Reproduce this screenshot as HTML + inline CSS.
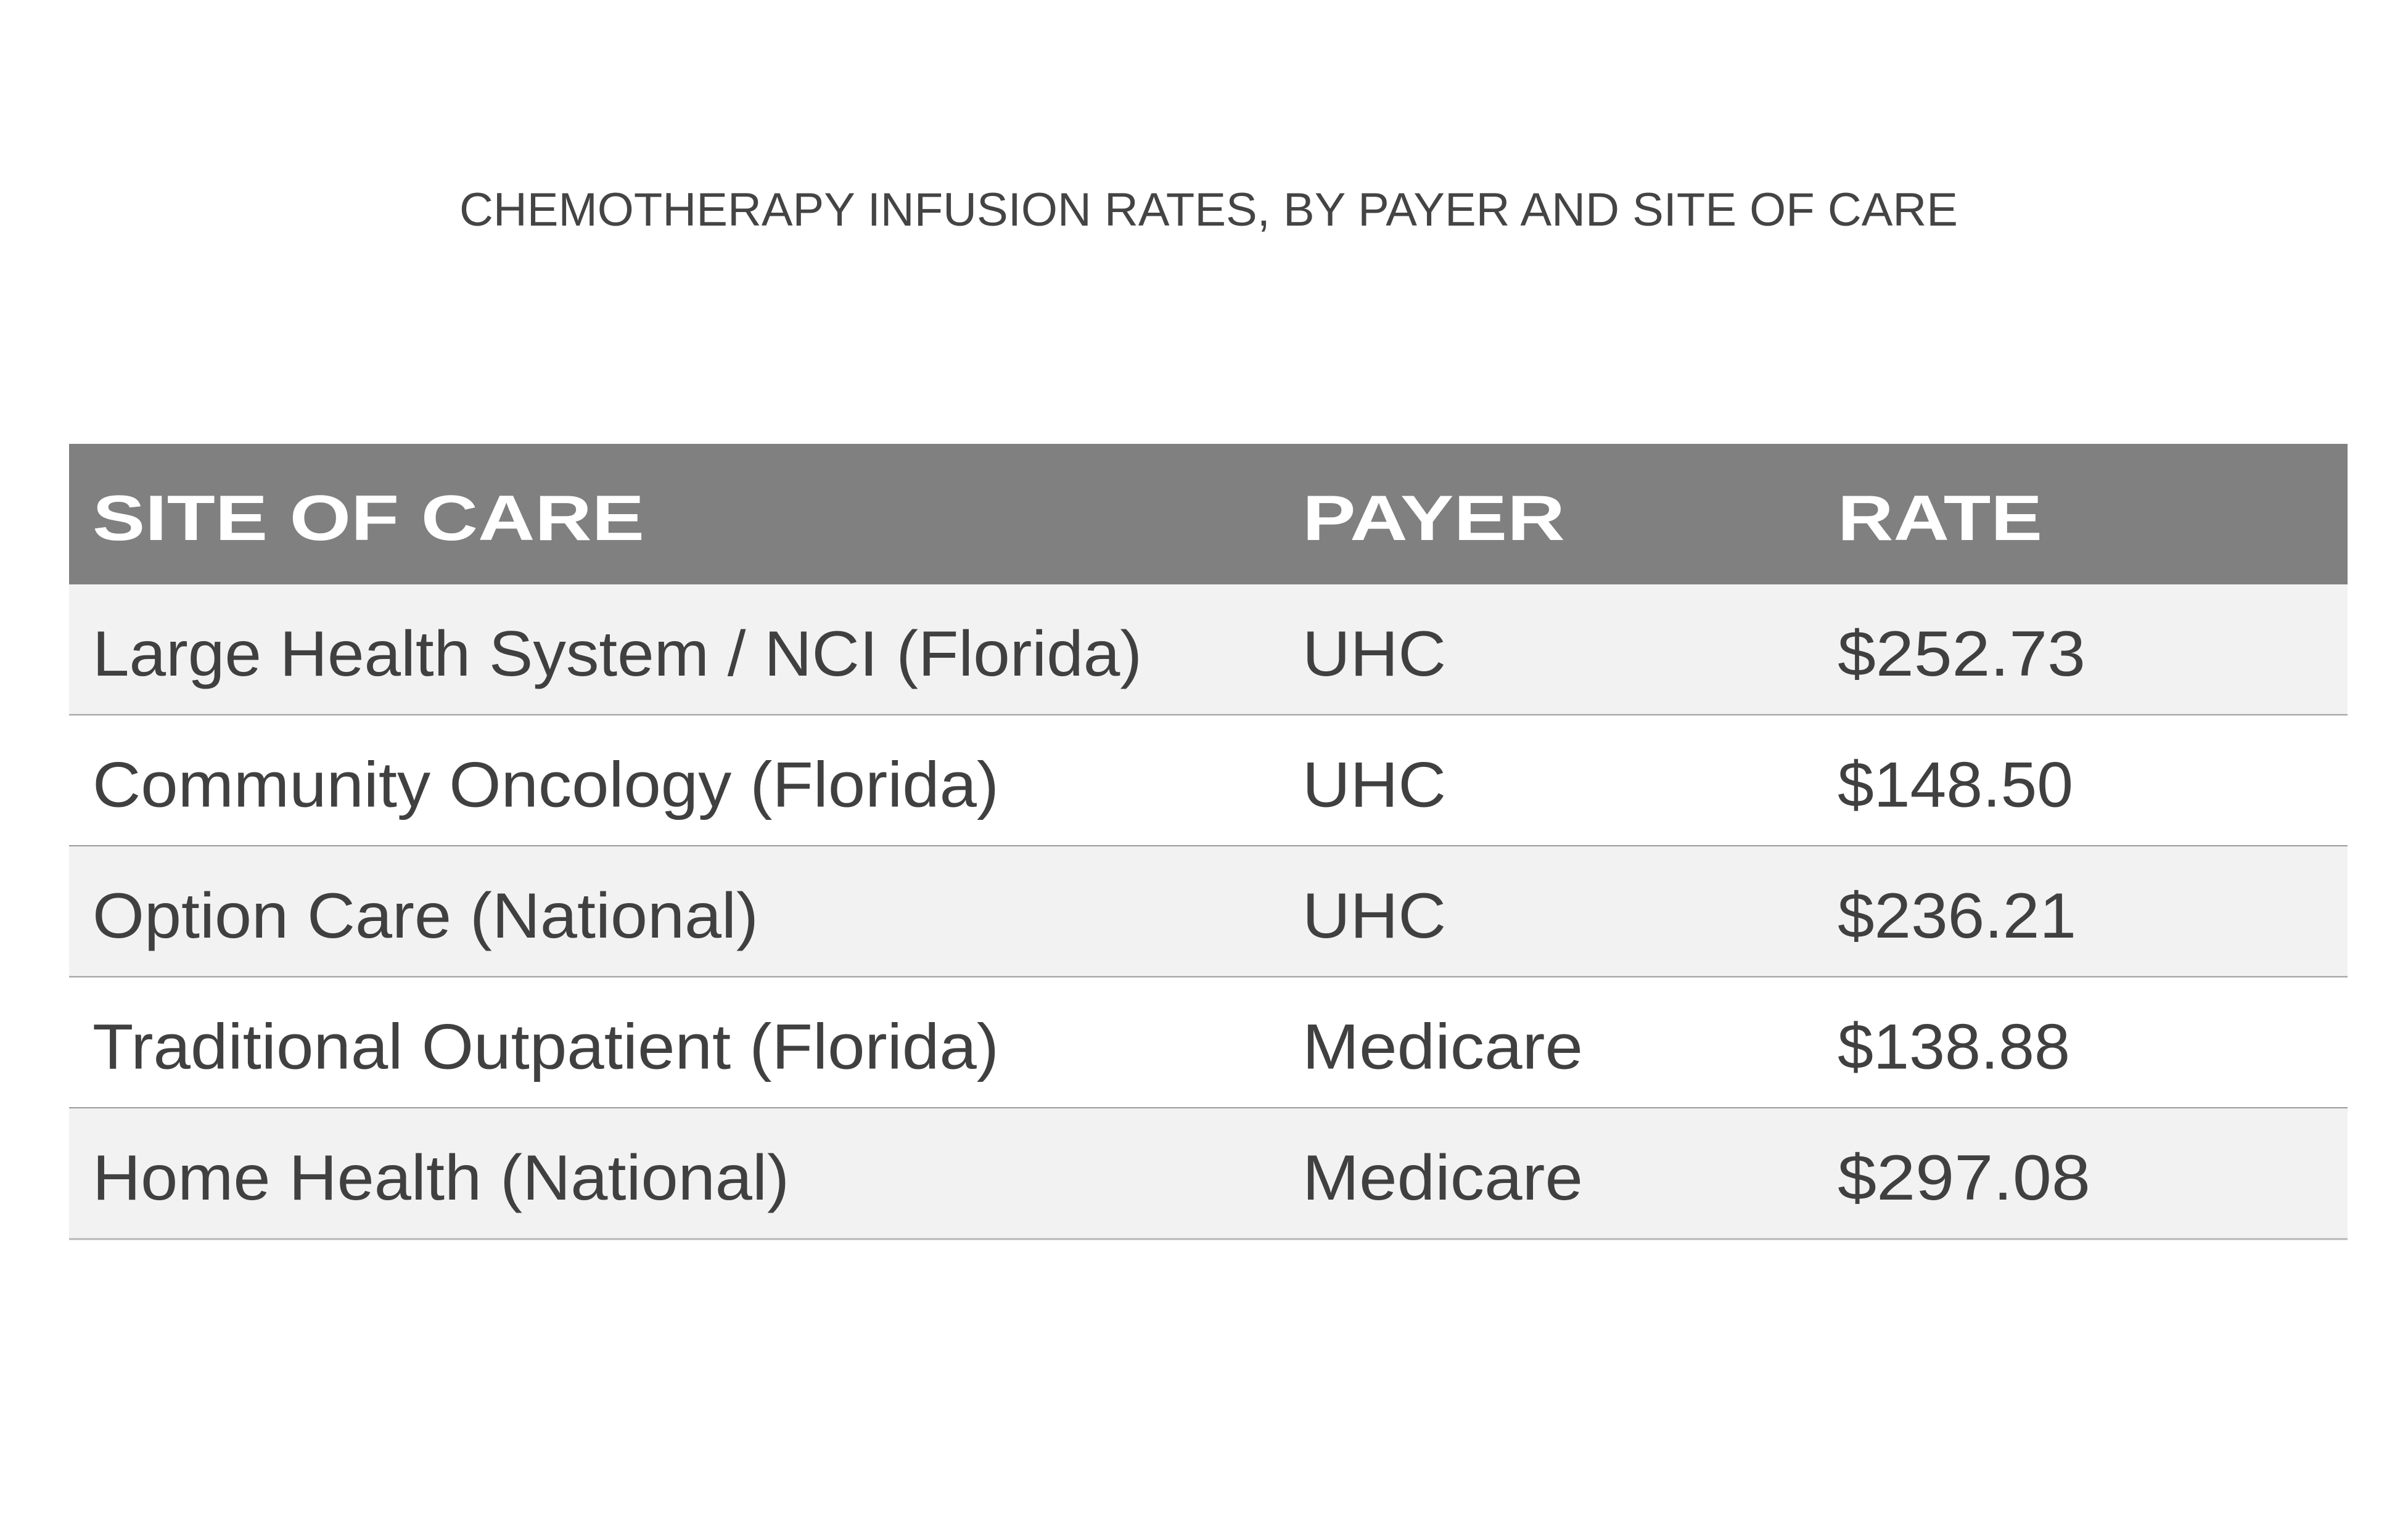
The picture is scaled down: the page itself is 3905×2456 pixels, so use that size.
<!DOCTYPE html>
<html><head><meta charset="utf-8"><style>
html,body{margin:0;padding:0;background:#fff;}
svg{display:block;}
text{font-family:"Liberation Sans",sans-serif;}
</style></head><body>
<svg width="3905" height="2456" viewBox="0 0 3905 2456" xmlns="http://www.w3.org/2000/svg">
<rect width="3905" height="2456" fill="#fff"/>
<text x="745" y="366" font-size="76" fill="#444" textLength="2430" lengthAdjust="spacingAndGlyphs">CHEMOTHERAPY INFUSION RATES, BY PAYER AND SITE OF CARE</text>
<rect x="112" y="720" width="3695" height="228" fill="#808080"/>
<text x="150" y="876" font-size="104" font-weight="bold" fill="#fff" textLength="895" lengthAdjust="spacingAndGlyphs">SITE OF CARE</text>
<text x="2112" y="876" font-size="104" font-weight="bold" fill="#fff" textLength="426" lengthAdjust="spacingAndGlyphs">PAYER</text>
<text x="2980" y="876" font-size="104" font-weight="bold" fill="#fff" textLength="332" lengthAdjust="spacingAndGlyphs">RATE</text>
<g id="rows"></g>
</svg>
<script>
const sites = ["Large Health System / NCI (Florida)","Community Oncology (Florida)","Option Care (National)","Traditional Outpatient (Florida)","Home Health (National)"];
const payers = ["UHC","UHC","UHC","Medicare","Medicare"];
const rates = ["$252.73","$148.50","$236.21","$138.88","$297.08"];
const siteW = [1702,1470,1080,1470,1130];
const payerW = [233,233,233,455,455];
const rateW = [402,382,387,377,410];
const NS="http://www.w3.org/2000/svg";
const g=document.getElementById('rows');
const top0=948, rh=212.5;
function mk(tag,attrs){const e=document.createElementNS(NS,tag);for(const k in attrs)e.setAttribute(k,attrs[k]);return e;}
sites.forEach((s,i)=>{
  const y=top0+i*rh;
  const bg=mk('rect',{x:112,y:y,width:3695,height:rh,fill:i%2===0?'#f2f2f2':'#ffffff'});
  
  
  g.appendChild(bg);
  const ln=mk('rect',{x:112,y:y+rh-2,width:3695,height:3,fill:i===sites.length-1?'#b8b8b8':'#999'});
  
  
  g.appendChild(ln);
  const base=1096+i*rh;
  const cells=[[150,s,siteW[i],'site-cell'],[2112,payers[i],payerW[i],'payer-cell'],[2980,rates[i],rateW[i],'rate-cell']];
  cells.forEach(c=>{
    const t=mk('text',{x:c[0],y:base,'font-size':104,fill:'#404040',textLength:c[2],lengthAdjust:'spacingAndGlyphs'});
    t.textContent=c[1];
    
    
    g.appendChild(t);
  });
});
</script>
</body></html>
